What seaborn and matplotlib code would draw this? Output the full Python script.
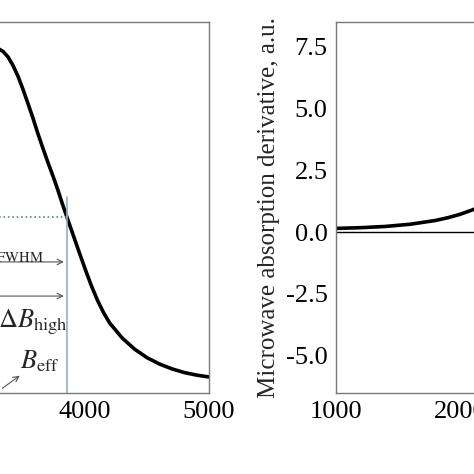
import matplotlib
matplotlib.use('Agg')
import matplotlib.pyplot as plt
import seaborn as sns
from matplotlib.ticker import MultipleLocator, FormatStrFormatter

# ── Data ──────────────────────────────────────────────────────────────────────
field_abs = [3250, 3300, 3340, 3380, 3420, 3460, 3500, 3540, 3580, 3620, 3660,
             3700, 3740, 3780, 3820, 3860, 3900, 3950, 4000, 4050, 4100, 4150,
             4200, 4300, 4400, 4500, 4600, 4700, 4800, 4900, 5000]
absorption = [0.93, 0.928, 0.92, 0.905, 0.882, 0.853, 0.818, 0.78, 0.741, 0.699,
              0.66, 0.622, 0.586, 0.548, 0.507, 0.468, 0.43, 0.382, 0.335, 0.29,
              0.25, 0.216, 0.188, 0.148, 0.118, 0.095, 0.078, 0.065, 0.055,
              0.048, 0.043]

field_der = [1000, 1200, 1400, 1600, 1800, 1900, 2000, 2100, 2150, 2200]
derivative = [0.15, 0.18, 0.23, 0.32, 0.47, 0.58, 0.72, 0.9, 1.0, 1.12]

b_high = 3852
half_level = 0.474

sns.set_style('white')
plt.rcParams['font.family'] = ['Liberation Serif', 'DejaVu Serif']
plt.rcParams['mathtext.fontset'] = 'stix'

fig = plt.figure(figsize=(4.74, 4.74), dpi=100)
ax1 = fig.add_axes([-0.344, 0.171, 0.785, 0.783])
ax2 = fig.add_axes([0.709, 0.171, 0.785, 0.783])

for ax in (ax1, ax2):
    for s in ax.spines.values():
        s.set_color('#777777')
        s.set_linewidth(1.0)
    ax.tick_params(direction='in', which='both', labelsize=19, colors='#777777',
                   labelcolor='black', length=4, pad=6)
    ax.tick_params(which='minor', length=2.5)

# ── Left panel ────────────────────────────────────────────────────────────────
sns.lineplot(x=field_abs, y=absorption, ax=ax1, color='black', linewidth=2.6)
ax1.set_xlim(2000, 5000)
ax1.set_ylim(0, 1)
ax1.set_xticks([4000, 5000])
ax1.xaxis.set_minor_locator(MultipleLocator(500))
ax1.set_yticks([])
ax1.plot([2000, b_high], [half_level, half_level], ls=':', color='#4f86b0', lw=1.2)
ax1.plot([b_high, b_high], [0, 0.528], color='#8fb0c8', lw=1.2)
ax1.annotate('', xy=(b_high, 0.353), xytext=(2800, 0.353),
             arrowprops=dict(arrowstyle='->', color='#555555', lw=0.8))
ax1.annotate('', xy=(b_high, 0.261), xytext=(2900, 0.261),
             arrowprops=dict(arrowstyle='<->', color='#555555', lw=0.8))
ax1.text(3669, 0.372, r'$\Delta B_{\mathrm{FWHM}}$', ha='right', va='center', fontsize=15)
ax1.text(3580, 0.191, r'$\Delta B_{\mathrm{high}}$', ha='center', va='center', fontsize=19)
ax1.text(3637, 0.085, r'$B_{\mathrm{eff}}$', ha='center', va='center', fontsize=19)
ax1.annotate('', xy=(3492, 0.051), xytext=(3315, 0.008),
             arrowprops=dict(arrowstyle='->', color='#555555', lw=0.8))

# ── Right panel ───────────────────────────────────────────────────────────────
sns.lineplot(x=field_der, y=derivative, ax=ax2, color='black', linewidth=2.6)
ax2.axhline(0, color='black', lw=1.0)
ax2.set_xlim(1000, 4000)
ax2.set_ylim(-6.5, 8.5)
ax2.xaxis.set_major_locator(MultipleLocator(1000))
ax2.xaxis.set_minor_locator(MultipleLocator(500))
ax2.yaxis.set_major_locator(MultipleLocator(2.5))
ax2.yaxis.set_minor_locator(MultipleLocator(0.5))
ax2.yaxis.set_major_formatter(FormatStrFormatter('%.1f'))
ax2.set_ylabel('Microwave absorption derivative, a.u.', fontsize=18, labelpad=4)

fig.savefig('out.png', dpi=100)
